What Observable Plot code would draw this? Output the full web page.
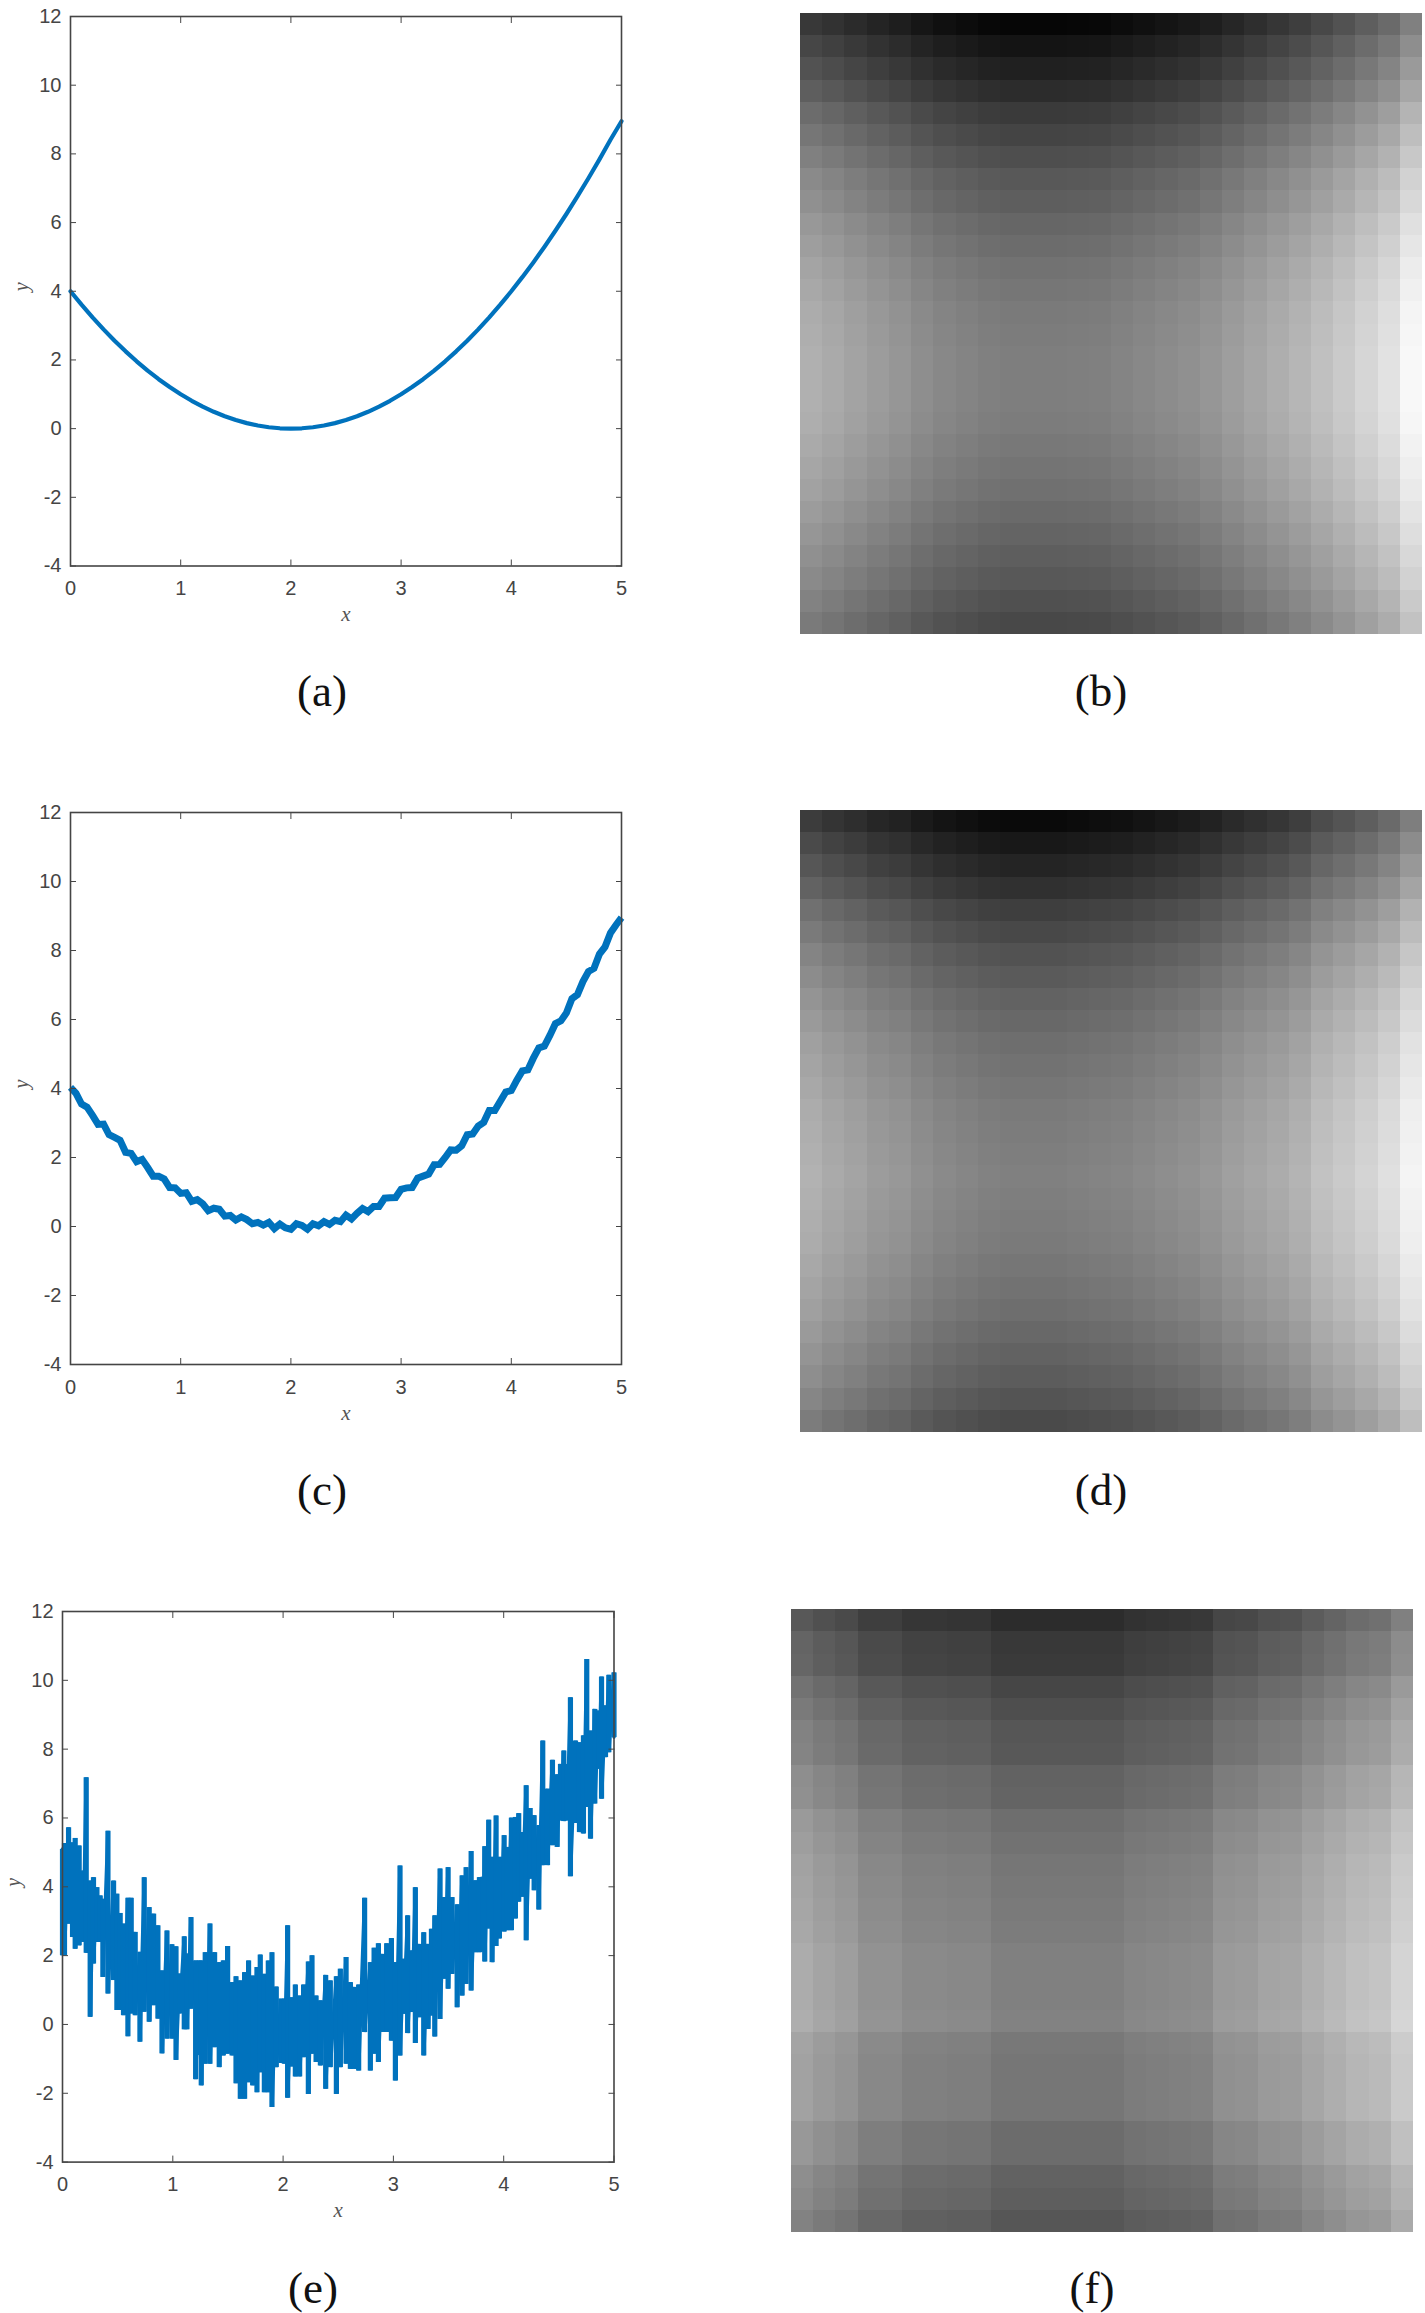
<!DOCTYPE html>
<html>
<head>
<meta charset="utf-8">
<script src="https://cdn.jsdelivr.net/npm/d3@7"></script>
<script src="https://cdn.jsdelivr.net/npm/@observablehq/plot@0.6"></script>
<style>
html,body{margin:0;padding:0;background:#fff}
#page{position:relative;width:1425px;height:2313px;overflow:hidden}
.cap{position:absolute;transform:translate(-50%,-50%);font-family:"Liberation Serif",serif;font-size:45px;color:#111;line-height:1}
</style>
</head>
<body>
<div id="page"></div>
<script>
const xTicks = [0,1,2,3,4,5];
const yTicks = [-4,-2,0,2,4,6,8,10,12];
const captions = ["(a)","(b)","(c)","(d)","(e)","(f)"];

// Panel (a): clean curve, sampled every 0.1
const aX = [0,0.1,0.2,0.3,0.4,0.5,0.6,0.7,0.8,0.9,1,1.1,1.2,1.3,1.4,1.5,1.6,1.7,1.8,1.9,2,2.1,2.2,2.3,2.4,2.5,2.6,2.7,2.8,2.9,3,3.1,3.2,3.3,3.4,3.5,3.6,3.7,3.8,3.9,4,4.1,4.2,4.3,4.4,4.5,4.6,4.7,4.8,4.9,5];
const aY = [4,3.61,3.24,2.89,2.56,2.25,1.96,1.69,1.44,1.21,1,0.81,0.64,0.49,0.36,0.25,0.16,0.09,0.04,0.01,0,0.01,0.04,0.09,0.16,0.25,0.36,0.49,0.64,0.81,1,1.21,1.44,1.69,1.96,2.25,2.56,2.89,3.24,3.61,4,4.41,4.84,5.29,5.76,6.25,6.76,7.29,7.84,8.41,8.95];

// Panel (c): lightly noisy curve, sampled every 0.05
const cY = [4.03,3.86,3.55,3.46,3.22,2.96,2.97,2.66,2.58,2.50,2.15,2.12,1.88,1.94,1.71,1.46,1.46,1.38,1.13,1.12,0.96,0.98,0.73,0.78,0.66,0.46,0.53,0.50,0.30,0.32,0.19,0.28,0.20,0.08,0.12,0.04,0.12,-0.06,0.07,-0.04,
-0.08,0.08,0.03,-0.08,0.08,0.02,0.14,0.06,0.18,0.14,0.33,0.22,0.38,0.52,0.43,0.58,0.58,0.82,0.83,0.84,1.08,1.12,1.13,1.40,1.46,1.52,1.79,1.80,2.00,2.22,2.21,2.34,2.66,2.68,2.91,3.02,3.36,3.36,3.63,3.90,3.94,4.24,4.51,4.54,4.88,5.18,5.23,5.54,5.88,5.96,6.19,6.60,6.72,7.10,7.39,7.48,7.90,8.10,8.51,8.74,8.95];
const cStep = 0.05;

// Panel (e): strongly noisy curve, read as a high and a low per column
const eX = [0,0.018,0.055,0.091,0.115,0.151,0.188,0.215,0.251,0.281,0.312,0.342,0.366,0.412,0.463,0.493,0.523,0.553,0.593,0.623,0.659,0.702,0.741,0.786,0.826,0.865,0.902,0.947,0.992,1.029,1.062,1.104,1.128,1.165,1.207,1.240,
1.258,1.294,1.337,1.379,1.421,1.458,1.497,1.537,1.573,1.612,1.651,1.687,1.724,1.763,1.793,1.830,1.866,1.899,1.938,1.981,2.011,2.041,2.075,2.111,2.150,2.186,2.229,2.262,2.299,2.338,2.386,2.428,2.483,2.519,
2.571,2.610,2.646,2.685,2.739,2.791,2.825,2.864,2.903,2.939,2.982,3.018,3.060,3.093,3.129,3.169,3.199,3.236,3.275,3.315,3.345,3.375,3.423,3.460,3.496,3.532,3.578,3.623,3.659,3.705,3.744,3.780,
3.810,3.828,3.864,3.895,3.931,3.961,4.004,4.034,4.070,4.106,4.136,4.167,4.204,4.240,4.276,4.318,4.354,4.397,4.442,4.485,4.515,4.545,4.575,4.605,4.651,4.687,4.723,4.753,4.787,4.826,4.862,4.887,4.923,4.953,5];
const eHigh = [5.10,5.27,5.73,5.29,5.42,5.20,4.47,7.18,4.18,4.28,3.99,3.75,3.65,5.63,4.18,3.80,3.24,2.93,3.68,3.68,2.69,2.11,4.28,3.41,3.22,2.88,1.57,2.73,2.33,2.27,1.48,2.56,2.06,3.12,1.86,1.86,
1.86,2.10,2.93,2.10,1.81,1.86,2.28,1.23,1.40,1.28,1.52,1.86,1.42,1.67,2.03,1.47,1.86,2.10,1.10,0.75,0.75,2.88,0.79,1.16,0.84,1.16,1.83,2.01,0.84,0.70,1.44,1.28,1.40,1.62,
1.96,1.23,1.09,1.16,3.68,1.81,2.23,2.36,2.05,2.36,2.51,1.81,4.62,1.91,3.17,2.15,3.99,2.34,2.68,2.34,2.78,3.17,4.53,3.70,4.57,3.70,3.49,4.33,4.57,5.04,4.19,4.28,
4.29,5.18,5.95,4.87,6.07,4.87,5.50,5.16,6.01,6.03,6.14,5.59,6.95,6.29,6.08,5.79,8.25,6.85,7.69,7.27,7.57,7.96,7.57,9.51,8.25,8.20,8.40,10.62,8.54,9.17,9.12,10.11,9.27,10.16,10.23];
const eLow = [2.01,2.01,2.93,2.54,2.20,2.30,2.40,2.08,0.22,1.77,2.40,2.40,1.38,0.90,1.29,0.42,0.42,0.27,-0.34,0.32,0.27,-0.50,0.37,0.08,0.56,0.17,-0.84,-0.41,-0.41,-1.03,0.32,-0.14,-0.14,0.46,-1.59,-0.89,
-1.77,-1.14,-1.14,-0.66,-1.24,-0.90,-0.85,-0.90,-1.71,-2.16,-2.16,-1.68,-1.77,-1.97,-1.39,-1.97,-1.97,-2.40,-1.24,-1.12,-1.14,-2.13,-1.22,-1.51,-1.51,-0.95,-2.02,-0.85,-1.09,-1.19,-1.87,-1.24,-2.02,-1.24,
-1.14,-1.29,-1.29,-1.34,-0.22,-1.34,-0.85,-1.09,-0.22,-0.22,-0.47,-1.63,-0.90,0.31,-0.25,0.36,-0.54,0.21,-0.90,-0.13,0.26,-0.35,0.16,1.33,1.04,1.47,0.50,0.84,1.18,0.99,2.10,2.10,
2.12,1.83,2.79,1.81,2.28,2.50,2.70,2.74,2.74,3.08,3.57,3.71,2.45,4.24,3.90,3.34,4.63,4.63,5.21,5.16,5.93,5.91,5.93,4.31,5.86,5.59,5.55,6.32,5.40,6.42,7.43,6.56,7.77,7.91,8.35];

// Heat maps: grey level of each row at the darkest column, and how much lighter each column is
const bRows = [6,20,32,44,58,68,78,88,94,102,108,114,118,122,124,126,126,126,124,120,116,112,106,100,94,88,80,72];
const bCols = [50,44,37,30,24,16,10,6,2,0,0,0,1,2,6,10,14,18,24,32,40,48,56,66,76,88,100,122];
const dRows = [10,24,36,48,62,72,82,90,98,104,110,114,118,122,124,126,128,126,124,122,118,114,110,104,98,92,84,74];
const dCols = [50,42,36,28,24,16,10,6,2,0,0,0,2,4,6,10,14,18,24,32,38,44,52,66,74,84,96,116];
const fRows = [44,56,58,70,78,86,88,98,100,110,114,118,120,122,124,128,128,128,130,120,118,118,118,108,108,98,94,86];
const fCols = [44,36,30,18,18,10,10,8,8,0,0,0,0,0,0,6,8,10,12,26,28,36,38,48,56,64,68,84];

const BLUE = "#0072BD";
const INK = "#454545";
const page = document.getElementById("page");
const ML = 60, MT = 10, MR = 12, MB = 72;

function linePlot(traces, box) {
  const w = box.x1 - box.x0, h = box.y1 - box.y0;
  const svg = Plot.plot({
    width: w + ML + MR, height: h + MT + MB,
    marginLeft: ML, marginRight: MR, marginTop: MT, marginBottom: MB,
    style: {position: "absolute", left: (box.x0 - ML) + "px", top: (box.y0 - MT) + "px",
            fontFamily: "'Liberation Sans',Arial,sans-serif", background: "transparent", overflow: "visible"},
    x: {domain: [0, 5]},
    y: {domain: [-4, 12]},
    marks: [
      ...traces,
      Plot.frame({stroke: INK, strokeWidth: 1.6}),
      // inward ticks on all four sides
      Plot.axisX({anchor: "bottom", ticks: xTicks, tickSize: 6, dy: -6, tickFormat: () => "", label: null, stroke: INK}),
      Plot.axisX({anchor: "top", ticks: xTicks, tickSize: 6, dy: 6, tickFormat: () => "", label: null, stroke: INK}),
      Plot.axisY({anchor: "left", ticks: yTicks, tickSize: 6, dx: 6, tickFormat: () => "", label: null, stroke: INK}),
      Plot.axisY({anchor: "right", ticks: yTicks, tickSize: 6, dx: -6, tickFormat: () => "", label: null, stroke: INK}),
      // tick labels
      Plot.axisX({anchor: "bottom", ticks: xTicks, tickSize: 0, tickPadding: 15, tickFormat: d => String(d), label: null, fontSize: 20, fill: INK}),
      Plot.axisY({anchor: "left", ticks: yTicks, tickSize: 0, tickPadding: 9, tickFormat: d => String(d), label: null, fontSize: 20, fill: INK}),
      // axis names
      Plot.text(["x"], {frameAnchor: "bottom", dy: 55, text: d => d, fontFamily: "'Liberation Serif',serif", fontStyle: "italic", fontSize: 21, fill: "#555"}),
      Plot.text(["y"], {frameAnchor: "left", dx: -49, rotate: -90, text: d => d, fontFamily: "'Liberation Serif',serif", fontStyle: "italic", fontSize: 20, fill: "#555"})
    ]
  });
  page.appendChild(svg);
}

function heatPlot(rows, cols, box) {
  const idx = d3.range(rows.length);
  const jdx = d3.range(cols.length);
  const cells = idx.flatMap(r => jdx.map(c => ({r, c, v: Math.min(255, rows[r] + cols[c])})));
  const svg = Plot.plot({
    width: box.x1 - box.x0, height: box.y1 - box.y0,
    margin: 0,
    style: {position: "absolute", left: box.x0 + "px", top: box.y0 + "px", background: "transparent"},
    x: {type: "band", domain: jdx, padding: 0, round: false, axis: null},
    y: {type: "band", domain: idx, padding: 0, round: false, axis: null},
    color: {type: "linear", domain: [0, 255], range: ["#000000", "#ffffff"]},
    marks: [Plot.cell(cells, {x: "c", y: "r", fill: "v", shapeRendering: "crispEdges"})]
  });
  page.appendChild(svg);
}

function caption(text, x, y) {
  const d = document.createElement("div");
  d.className = "cap";
  d.textContent = text;
  d.style.left = x + "px";
  d.style.top = y + "px";
  page.appendChild(d);
}

const aPts = aX.map((x, i) => ({x, y: aY[i]}));
const cPts = cY.map((y, i) => ({x: i * cStep, y}));
const ePts = eX.flatMap((x, i) => [{x, y: eHigh[i], col: i}, {x, y: eLow[i], col: i}]);

linePlot([Plot.line(aPts, {x: "x", y: "y", stroke: BLUE, strokeWidth: 4.2})],
  {x0: 69.5, x1: 620.5, y0: 15.5, y1: 565});
linePlot([Plot.line(cPts, {x: "x", y: "y", stroke: BLUE, strokeWidth: 7, strokeLinejoin: "miter", strokeMiterlimit: 3, strokeLinecap: "butt"})],
  {x0: 69.5, x1: 620.5, y0: 812, y1: 1364});
linePlot([
    // the whole trace, then each excursion drawn with a flat end
    Plot.line(ePts, {x: "x", y: "y", stroke: BLUE, strokeWidth: 3.6, strokeLinejoin: "bevel"}),
    Plot.line(ePts, {x: "x", y: "y", z: "col", stroke: BLUE, strokeWidth: 5.2, strokeLinecap: "butt"})
  ], {x0: 61.5, x1: 613, y0: 1611, y1: 2161.6});

heatPlot(bRows, bCols, {x0: 800, x1: 1422, y0: 13, y1: 634});
heatPlot(dRows, dCols, {x0: 800, x1: 1422, y0: 810, y1: 1432});
heatPlot(fRows, fCols, {x0: 791, x1: 1413, y0: 1609, y1: 2232});

caption(captions[0], 322, 691);
caption(captions[1], 1101, 691);
caption(captions[2], 322, 1490);
caption(captions[3], 1101, 1490);
caption(captions[4], 313, 2288);
caption(captions[5], 1092, 2288);
</script>
</body>
</html>
